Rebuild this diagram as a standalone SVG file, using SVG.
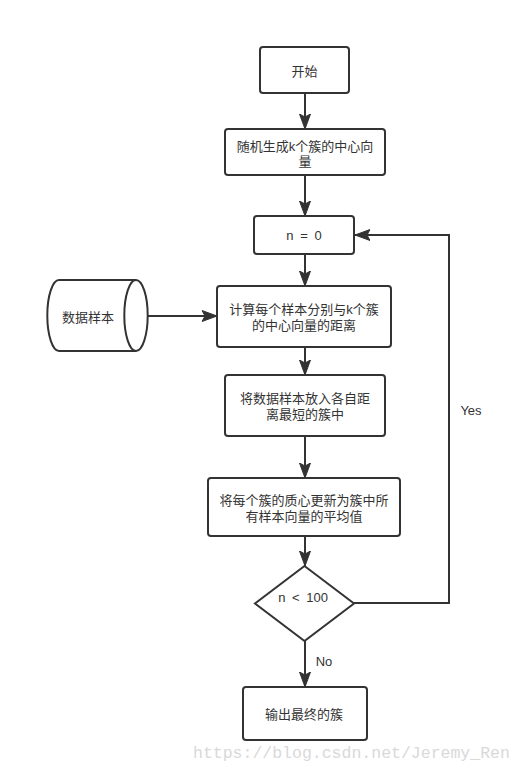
<svg xmlns="http://www.w3.org/2000/svg" width="523" height="772" viewBox="0 0 523 772">
<style>
.box{fill:#fff;stroke:#333;stroke-width:2}
.edge{fill:none;stroke:#333;stroke-width:2}
.t{font-family:"Liberation Sans","Noto Sans CJK SC",sans-serif;font-size:13px;fill:#333;text-anchor:middle;dominant-baseline:central}
.ws{word-spacing:3px}
.wm{font-family:"Liberation Mono",monospace;font-size:16.5px;fill:#d9d9d9}
</style>
<defs>
<marker id="arr" markerUnits="userSpaceOnUse" markerWidth="16" markerHeight="12" viewBox="-15 -6 16 12" refX="0" refY="0" orient="auto">
<path d="M0,0 L-15,-5.5 L-12,0 L-15,5.5 Z" fill="#333" stroke="#333" stroke-width="1"/>
</marker>
</defs>
<rect width="523" height="772" fill="#fff"/>
<g id="connectors">
<path class="edge" d="M305,93 L305,129" marker-end="url(#arr)"/>
<path class="edge" d="M305,175 L305,216" marker-end="url(#arr)"/>
<path class="edge" d="M305,254 L305,286" marker-end="url(#arr)"/>
<path class="edge" d="M147,316 L217,316" marker-end="url(#arr)"/>
<path class="edge" d="M305,347 L305,375" marker-end="url(#arr)"/>
<path class="edge" d="M305,436 L305,478" marker-end="url(#arr)"/>
<path class="edge" d="M305,536 L305,566" marker-end="url(#arr)"/>
<path class="edge" d="M305,641 L305,687" marker-end="url(#arr)"/>
<path class="edge" d="M354,603 L449,603 L449,235 L355,235" marker-end="url(#arr)"/>
<text class="t" x="324" y="661">No</text>
<text class="t" x="471" y="410">Yes</text>
</g>
<g id="start">
<rect class="box" x="260" y="47" width="89" height="46" rx="3"/>
<text class="t" x="304.5" y="71">开始</text>
</g>
<g id="init">
<rect class="box" x="225" y="129" width="160" height="46" rx="3"/>
<text class="t" x="305" y="146"><tspan x="305" y="146">随机生成k个簇的中心向</tspan><tspan x="305" y="161">量</tspan></text>
</g>
<g id="n0">
<rect class="box" x="254" y="216" width="100" height="38" rx="3"/>
<text class="t ws" x="304" y="235">n = 0</text>
</g>
<g id="data">
<path class="box" d="M59,280 L136,280 A11.7,35.5 0 0 1 136,351 L59,351 A11.7,35.5 0 0 1 59,280 Z"/>
<path class="edge" d="M136,280 A11.7,35.5 0 0 0 136,351"/>
<text class="t" x="88" y="317">数据样本</text>
</g>
<g id="dist">
<rect class="box" x="217" y="286" width="174" height="61" rx="3"/>
<text class="t" x="304" y="309"><tspan x="304" y="309">计算每个样本分别与k个簇</tspan><tspan x="304" y="325">的中心向量的距离</tspan></text>
</g>
<g id="assign">
<rect class="box" x="225" y="375" width="160" height="61" rx="3"/>
<text class="t" x="305" y="398"><tspan x="305" y="398">将数据样本放入各自距</tspan><tspan x="305" y="414">离最短的簇中</tspan></text>
</g>
<g id="update">
<rect class="box" x="208" y="478" width="192" height="58" rx="3"/>
<text class="t" x="304" y="500"><tspan x="304" y="500">将每个簇的质心更新为簇中所</tspan><tspan x="304" y="516">有样本向量的平均值</tspan></text>
</g>
<g id="cond">
<path class="box" d="M304.5,566 L354,603.5 L304.5,641 L255,603.5 Z"/>
<text class="t ws" x="303" y="597">n &lt; 100</text>
</g>
<g id="output">
<rect class="box" x="243" y="687" width="124" height="53" rx="3"/>
<text class="t" x="304" y="714">输出最终的簇</text>
</g>
<text class="wm" x="193" y="758">https://blog.csdn.net/Jeremy_Ren</text>
</svg>
